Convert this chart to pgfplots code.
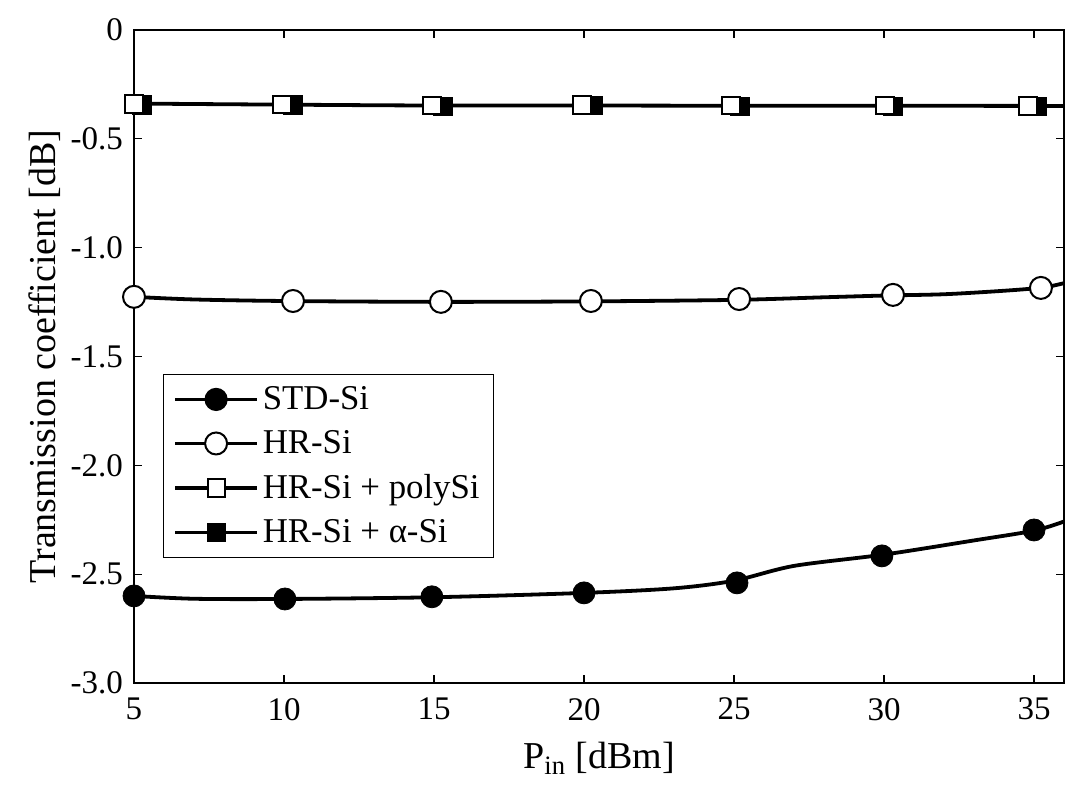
\documentclass[border=0pt]{standalone}
\usepackage{pgfplots}
\pgfplotsset{compat=1.18}
\usepackage{fontspec}
\setmainfont{Liberation Serif}
\begin{document}
\begin{tikzpicture}
\begin{axis}[
  name=ax,
  scale only axis,
  width=465pt, height=326.5pt,
  xmin=5, xmax=36, ymin=-3, ymax=0,
  clip=false,
  axis line style={line width=0.6pt},
  tick style={line width=0.6pt, black},
  tick align=inside,
  major tick length=4pt,
  xtick={5,10,15,20,25,30,35},
  xticklabels={5,10,15,20,25,30,35},
  ytick={-3,-2.5,-2,-1.5,-1,-0.5,0},
  yticklabels={-3.0,-2.5,-2.0,-1.5,-1.0,-0.5,0},
  ticklabel style={font=\fontsize{16.5}{18}\selectfont},
  xticklabel style={yshift=-4pt},
  yticklabel style={xshift=-2pt},
  xlabel={P\textsubscript{in} [dBm]},
  ylabel={Transmission coefficient [dB]},
  label style={font=\fontsize{19}{22}\selectfont},
  xlabel style={yshift=-4pt},
  ylabel style={yshift=-2pt},
  legend style={at={(0.031,0.191)}, anchor=south west, draw=black, line width=0.6pt,
    font=\fontsize{17.4}{20}\selectfont, row sep=5pt, inner xsep=5pt, inner ysep=4pt,
    cells={anchor=west}},
  legend cell align=left,
]
% lines
\addplot[black, line width=1.9pt, smooth, forget plot] coordinates {
(5,-2.600) (7,-2.613) (10,-2.614) (15,-2.606) (20,-2.586) (23,-2.565) (25,-2.530) (27,-2.462) (30,-2.410) (33,-2.345) (35,-2.300) (36,-2.258)};
\addplot[black, line width=1.9pt, smooth, forget plot] coordinates {
(5,-1.226) (7,-1.238) (10,-1.245) (15,-1.249) (20,-1.247) (25,-1.240) (28,-1.228) (30,-1.220) (32,-1.214) (34,-1.198) (35.3,-1.183) (36,-1.163)};
\addplot[black, line width=1.9pt, smooth, forget plot] coordinates {
(5,-0.338) (10,-0.343) (15,-0.347) (20,-0.347) (25,-0.348) (30,-0.348) (36,-0.349)};
% markers
\pgfplotsset{
  mylegend/.style={legend image code/.code={
    \draw[black, line width=1.7pt, solid] (0cm,0cm) -- (1.44cm,0cm);
    \draw plot coordinates {(0.72cm,0cm)};}}
}
\addplot[only marks, mark=*, mark size=5.5pt, black, mark options={fill=black}, mylegend] coordinates {
(5,-2.600) (10.03,-2.614) (14.93,-2.604) (20,-2.586) (25.1,-2.540) (29.93,-2.416) (35,-2.297)};
\addlegendentry{STD-Si}
\addplot[only marks, mark=*, mark size=5.5pt, black, mark options={fill=white, line width=1pt}, mylegend] coordinates {
(5,-1.226) (10.3,-1.245) (15.23,-1.249) (20.23,-1.245) (25.17,-1.236) (30.3,-1.217) (35.23,-1.185)};
\addlegendentry{HR-Si}
\addplot[only marks, mark=square*, mark size=4.3pt, black, mark options={fill=black, line width=1pt}, forget plot] coordinates {
(5.27,-0.345) (10.3,-0.345) (15.3,-0.352) (20.3,-0.347) (25.2,-0.350) (30.3,-0.350) (35.1,-0.350)};
\addplot[only marks, mark=square*, mark size=4.3pt, black, mark options={fill=white, line width=1pt}, mylegend] coordinates {
(5,-0.340) (9.93,-0.344) (14.93,-0.348) (19.93,-0.345) (24.9,-0.348) (30.03,-0.348) (34.8,-0.349)};
\addlegendentry{HR-Si + polySi}
\addlegendimage{only marks, mark=square*, mark size=4.3pt, black, mark options={fill=black, line width=1pt}, mylegend}
\addlegendentry{HR-Si + α-Si}
\end{axis}
\path (ax.south west) ++(-67pt,-54pt) rectangle ++(545pt,395.5pt);
\end{tikzpicture}
\end{document}
